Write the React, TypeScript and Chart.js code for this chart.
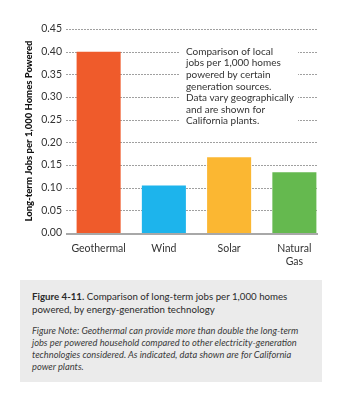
import { useEffect, useRef } from "react";
import { Chart, registerables } from "chart.js";

Chart.register(...registerables);

// Energy sources and long-term jobs per 1,000 homes powered
const categories = [["Geothermal"], ["Wind"], ["Solar"], ["Natural", "Gas"]];
const jobsPerThousandHomes = [0.4, 0.105, 0.167, 0.134];
const barColors = ["#EF5B2B", "#1DB4EC", "#FBB732", "#65B94F"];
const yTickValues = [0, 0.05, 0.1, 0.15, 0.2, 0.25, 0.3, 0.35, 0.4, 0.45];
const yTitle = "Long-term Jobs per 1,000 Homes Powered";
const noteLines = [
  "Comparison of local",
  "jobs per 1,000 homes",
  "powered by certain",
  "generation sources.",
  "Data vary geographically",
  "and are shown for",
  "California plants.",
];

const FONT = "Lato, 'Open Sans', sans-serif";
const TEXT = "#333333";

// Dashed grid, baseline, and the boxed note inside the plot
const gridAndNote = {
  id: "gridAndNote",
  beforeDatasetsDraw(chart: any) {
    const { ctx, chartArea, scales } = chart;
    const y = scales.y;
    const left = chartArea.left;
    const right = chartArea.right - 9;
    ctx.save();
    ctx.strokeStyle = "#a0a0a0";
    ctx.lineWidth = 1;
    ctx.setLineDash([2, 1]);
    yTickValues.forEach((v) => {
      if (v === 0) return;
      const py = Math.round(y.getPixelForValue(v)) + 0.5;
      ctx.beginPath();
      ctx.moveTo(left, py);
      ctx.lineTo(right, py);
      ctx.stroke();
    });
    ctx.setLineDash([]);

    // note panel
    const top40 = y.getPixelForValue(0.4);
    const boxLeft = left + 113;
    const boxRight = left + 232;
    ctx.fillStyle = "#ffffff";
    ctx.fillRect(boxLeft, top40 - 7, boxRight - boxLeft, 83);
    ctx.fillStyle = TEXT;
    ctx.font = `10px ${FONT}`;
    ctx.textBaseline = "middle";
    ctx.textAlign = "left";
    noteLines.forEach((line, i) => {
      ctx.fillText(line, boxLeft + 7, top40 + i * 11.6);
    });
    ctx.restore();
  },
  afterDatasetsDraw(chart: any) {
    const { ctx, chartArea, scales } = chart;
    const py = scales.y.getPixelForValue(0) + 1;
    ctx.save();
    ctx.strokeStyle = "#a8a8a8";
    ctx.lineWidth = 2;
    ctx.beginPath();
    ctx.moveTo(chartArea.left, py);
    ctx.lineTo(chartArea.right - 9, py);
    ctx.stroke();
    ctx.restore();
  },
};

function JobsChart() {
  const ref = useRef<HTMLCanvasElement>(null);
  useEffect(() => {
    if (!ref.current) return;
    const chart = new Chart(ref.current, {
      type: "bar",
      data: {
        labels: categories,
        datasets: [
          {
            data: jobsPerThousandHomes,
            backgroundColor: barColors,
            borderWidth: 0,
            barPercentage: 0.675,
            categoryPercentage: 1,
          },
        ],
      },
      options: {
        responsive: false,
        animation: false,
        layout: { padding: { top: 29, right: 21, left: 0, bottom: 0 } },
        plugins: { legend: { display: false }, tooltip: { enabled: false } },
        scales: {
          x: {
            grid: { display: false, drawTicks: false },
            border: { display: false },
            ticks: {
              color: TEXT,
              font: { family: FONT, size: 10.5, lineHeight: 1.15 },
              padding: 10,
              maxRotation: 0,
            },
            afterFit(scale: any) {
              scale.height = 37;
            },
          },
          y: {
            min: 0,
            max: 0.45,
            grid: { display: false, drawTicks: false },
            border: { display: false },
            afterBuildTicks(scale: any) {
              scale.ticks = yTickValues.map((v) => ({ value: v }));
            },
            ticks: {
              color: TEXT,
              font: { family: FONT, size: 10.5 },
              padding: 4,
              callback: (v: any) => Number(v).toFixed(2),
            },
            title: {
              display: true,
              text: yTitle,
              color: "#111111",
              font: { family: FONT, size: 9.5, weight: "900" },
              padding: { top: 23, bottom: 0 },
            },
            afterFit(scale: any) {
              scale.width = 66;
            },
          },
        },
      },
      plugins: [gridAndNote],
    });
    return () => chart.destroy();
  }, []);
  return <canvas ref={ref} width={348} height={270} style={{ display: "block" }} />;
}

export default function App() {
  return (
    <div
      style={{
        position: "absolute",
        left: 0,
        top: 0,
        width: 348,
        height: 400,
        background: "#ffffff",
        fontFamily: FONT,
      }}
    >
      <JobsChart />
      <div
        style={{
          position: "absolute",
          left: 20,
          top: 280,
          width: 302,
          height: 102,
          boxSizing: "border-box",
          background: "#ebebeb",
          padding: "10px 4px 0 12px",
          color: "#2a2a2a",
          whiteSpace: "nowrap",
        }}
      >
        <div style={{ fontSize: 9.7, lineHeight: "13.4px" }}>
          <b>Figure 4-11.</b> Comparison of long-term jobs per 1,000 homes
          <br />
          powered, by energy-generation technology
        </div>
        <div
          style={{
            fontSize: 9.3,
            lineHeight: "12px",
            fontStyle: "italic",
            color: "#3a3a3a",
            marginTop: 8,
          }}
        >
          Figure Note: Geothermal can provide more than double the long-term
          <br />
          jobs per powered household compared to other electricity-generation
          <br />
          technologies considered. As indicated, data shown are for California
          <br />
          power plants.
        </div>
      </div>
    </div>
  );
}
